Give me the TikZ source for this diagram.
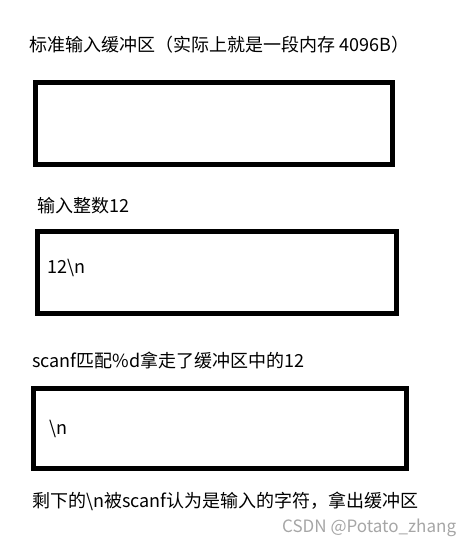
\documentclass[tikz,border=0pt]{standalone}
\usepackage{fontspec}
\setmainfont{Noto Sans CJK SC}
\usepackage{tikz}

\tikzset{
  buf/.style={draw, line width=5pt, inner sep=0pt},
  lbl/.style={anchor=base west, inner sep=0pt, font=\fontsize{18}{21}\selectfont}
}

\begin{document}
\begin{tikzpicture}[x=1pt,y=-1pt]
    \useasboundingbox (0,0) rectangle (470,546);
    \node[lbl] (t1) at (29,51) {标准输入缓冲区（实际上就是一段内存 4096B）};
    \node[buf, minimum width=357pt, minimum height=82pt] (b1) at (214,123.5) {};
    \node[lbl] (t2) at (37,212) {输入整数12};
    \node[buf, minimum width=359pt, minimum height=82pt] (b2) at (217,272.5) {};
    \node[lbl] (c2) at (47,273) {12\textbackslash n};
    \node[lbl] (t3) at (32,367) {scanf匹配\%d拿走了缓冲区中的12};
    \node[buf, minimum width=373pt, minimum height=80pt] (b3) at (220,428.5) {};
    \node[lbl] (c3) at (49,434) {\textbackslash n};
    \node[lbl] (t4) at (32,507) {剩下的\textbackslash n被scanf认为是输入的字符，拿出缓冲区};
    \node[lbl, text=black!35, font=\fontsize{17}{19}\selectfont] (wm) at (282,532) {CSDN @Potato\_zhang};
  \end{tikzpicture}
\end{document}
